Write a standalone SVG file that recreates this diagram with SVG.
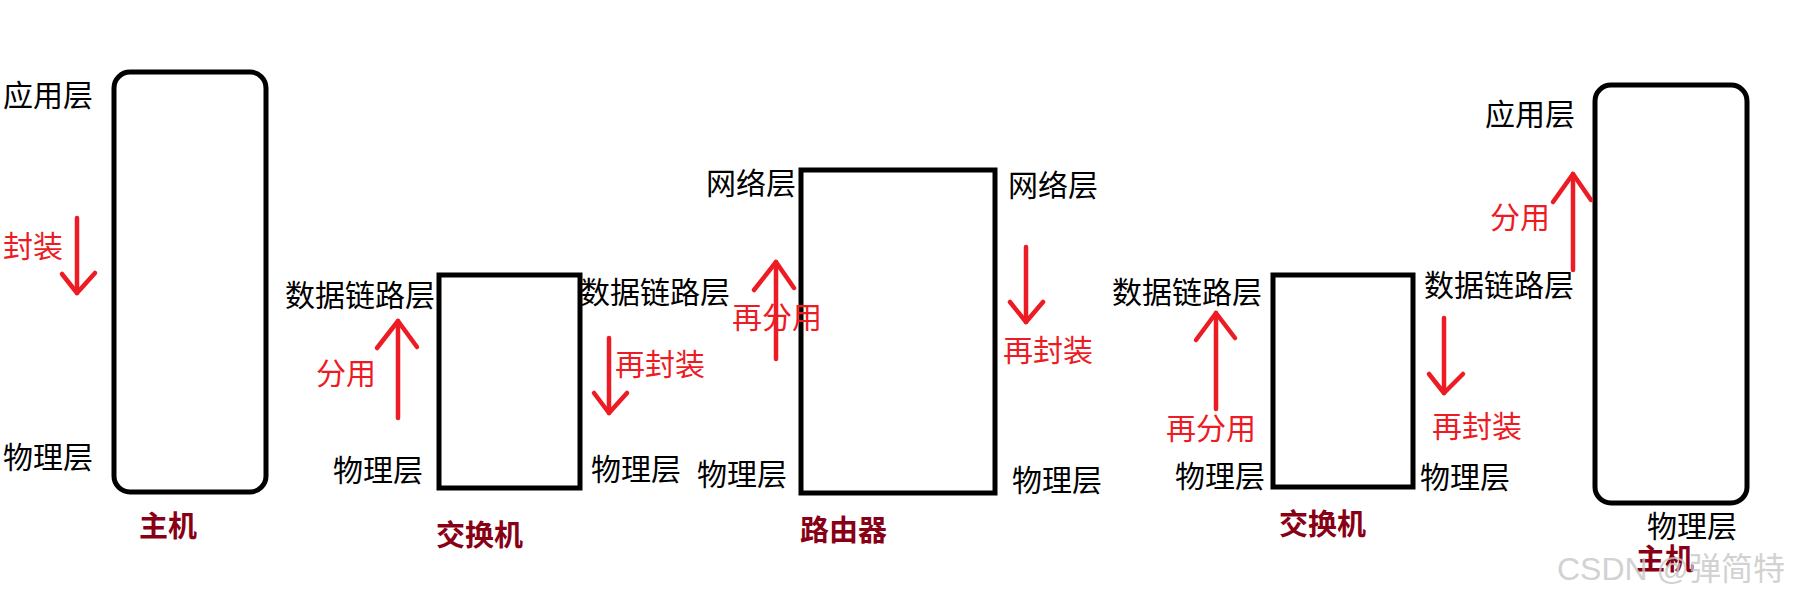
<svg xmlns="http://www.w3.org/2000/svg" width="1801" height="599" viewBox="0 0 1801 599">
<style>
.box{fill:#fff;stroke:#000;stroke-width:5}
.t{font-family:"Noto Sans CJK SC","Microsoft YaHei",sans-serif;font-size:30px;fill:#000}
.r{font-family:"Noto Sans CJK SC",sans-serif;font-size:30px;fill:#ED1C24}
.n{font-family:"Noto Sans CJK SC",sans-serif;font-size:29px;font-weight:bold;fill:#880015}
.a{fill:none;stroke:#ED1C24;stroke-width:4.5;stroke-linecap:round;stroke-linejoin:round}
.w{font-family:"Liberation Sans","Noto Sans CJK SC",sans-serif;font-size:32px;fill:#c8c8c8;opacity:0.8}
</style>
<rect width="1801" height="599" fill="#fff"/>
<g id="host1">
<rect class="box" x="114" y="72" width="152" height="420" rx="16"/>
<text class="t" x="3" y="106">应用层</text>
<text class="t" x="3" y="468">物理层</text>
<text class="n" x="139" y="537">主机</text>
</g>
<g id="switch1">
<rect class="box" x="439" y="275" width="141" height="213"/>
<text class="t" x="285" y="306">数据链路层</text>
<text class="t" x="580" y="303">数据链路层</text>
<text class="t" x="333" y="481">物理层</text>
<text class="t" x="591" y="480">物理层</text>
<text class="n" x="436" y="546">交换机</text>
</g>
<g id="router">
<rect class="box" x="801" y="170" width="194" height="323"/>
<text class="t" x="706" y="194">网络层</text>
<text class="t" x="1008" y="196">网络层</text>
<text class="t" x="697" y="485">物理层</text>
<text class="t" x="1012" y="491">物理层</text>
<text class="n" x="800" y="541">路由器</text>
</g>
<g id="switch2">
<rect class="box" x="1273" y="275" width="140" height="212"/>
<text class="t" x="1112" y="303">数据链路层</text>
<text class="t" x="1424" y="296">数据链路层</text>
<text class="t" x="1175" y="487">物理层</text>
<text class="t" x="1420" y="488">物理层</text>
<text class="n" x="1279" y="535">交换机</text>
</g>
<g id="host2">
<rect class="box" x="1595" y="85" width="152" height="418" rx="16"/>
<text class="t" x="1485" y="125">应用层</text>
<text class="t" x="1647" y="537">物理层</text>
<text class="n" x="1636" y="570">主机</text>
</g>
<g id="connectors">
<polyline class="a" points="77,218 77,293"/><polyline class="a" points="62,274 77,293 95,273"/>
<polyline class="a" points="398,418 398,321"/><polyline class="a" points="377,348 398,321 417,347"/>
<polyline class="a" points="609,338 609,413"/><polyline class="a" points="594,393 609,413 627,393"/>
<polyline class="a" points="776,359 776,262"/><polyline class="a" points="754,290 776,262 794,288"/>
<polyline class="a" points="1026,247 1026,322"/><polyline class="a" points="1010,302 1026,322 1043,302"/>
<polyline class="a" points="1216,409 1216,313"/><polyline class="a" points="1196,340 1216,313 1235,338"/>
<polyline class="a" points="1444,318 1444,393"/><polyline class="a" points="1429,374 1444,393 1463,374"/>
<polyline class="a" points="1573,270 1573,174"/><polyline class="a" points="1553,202 1573,174 1591,200"/>
</g>
<g id="labels">
<text class="r" x="3" y="257">封装</text>
<text class="r" x="316" y="384">分用</text>
<text class="r" x="615" y="375">再封装</text>
<text class="r" x="732" y="328">再分用</text>
<text class="r" x="1003" y="361">再封装</text>
<text class="r" x="1166" y="439">再分用</text>
<text class="r" x="1432" y="437">再封装</text>
<text class="r" x="1490" y="228">分用</text>
</g>
<text class="w" x="1557" y="580">CSDN @弹简特</text>
</svg>
